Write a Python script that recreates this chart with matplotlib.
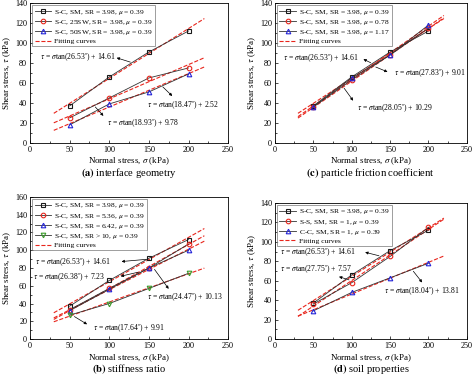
import numpy as np
import matplotlib
matplotlib.use('Agg')
import matplotlib.pyplot as plt

plt.rcParams['font.family'] = ['Liberation Serif', 'DejaVu Serif']
plt.rcParams['mathtext.fontset'] = 'stix'

sigma = [50, 100, 150, 200]

# (a) interface geometry
a_labels = ['S-C, SM, SR = 3.98, $\\mu$ = 0.39',
            'S-C, 25SW, SR = 3.98, $\\mu$ = 0.39',
            'S-C, 50SW, SR = 3.98, $\\mu$ = 0.39']
a_tau = [[37, 66, 91, 112],
         [25, 45, 65, 75],
         [18, 39, 51, 69]]
a_phi = [26.53, 18.93, 18.47]
a_c = [14.61, 9.78, 2.52]

# (c) particle friction coefficient
c_labels = ['S-C, SM, SR = 3.98, $\\mu$ = 0.39',
            'S-C, SM, SR = 3.98, $\\mu$ = 0.78',
            'S-C, SM, SR = 3.98, $\\mu$ = 1.17']
c_tau = [[37, 66, 91, 112],
         [36, 63, 88, 115],
         [36, 65, 88, 118]]
c_phi = [26.53, 27.83, 28.05]
c_c = [14.61, 9.01, 10.29]

# (b) stiffness ratio
b_labels = ['S-C, SM, SR = 3.98, $\\mu$ = 0.39',
            'S-C, SM, SR = 5.36, $\\mu$ = 0.39',
            'S-C, SM, SR = 6.42, $\\mu$ = 0.39',
            'S-C, SM, SR > 10, $\\mu$ = 0.39']
b_tau = [[37, 66, 91, 112],
         [33, 57, 80, 107],
         [32, 56, 80, 100],
         [27, 40, 57, 74]]
b_phi = [26.53, 26.38, 24.47, 17.64]
b_c = [14.61, 7.23, 10.13, 9.91]

# (d) soil properties
d_labels = ['S-C, SM, SR = 3.98, $\\mu$ = 0.39',
            'S-S, SM, SR = 1, $\\mu$ = 0.39',
            'C-C, SM, SR = 1, $\\mu$ = 0.39']
d_tau = [[37, 66, 91, 112],
         [36, 58, 85, 115],
         [29, 48, 63, 78]]
d_phi = [26.53, 27.75, 18.04]
d_c = [14.61, 7.57, 13.81]

fit_range = [30, 220]

colors = ['#1a1a1a', '#e8251c', '#2424d8', '#3a9a2a']
markers = ['s', 'o', '^', 'v']


def eq_text(phi, c):
    return '$\\tau$ = $\\sigma$tan(%.2f$^{\\circ}$) + %.2f' % (phi, c)


def draw_panel(ax, labels, taus, phis, cs, ymax, title_key, title_rest, notes):
    for i in range(len(taus)):
        ax.plot(sigma, taus[i], color='#333333', lw=0.6, marker=markers[i],
                ms=3.3, mfc='none', mec=colors[i], mew=0.8, label=labels[i], zorder=3)
    xf = np.array(fit_range)
    for i in range(len(taus)):
        yf = xf * np.tan(np.radians(phis[i])) + cs[i]
        ax.plot(xf, yf, '--', color='#e8251c', lw=0.8,
                label='Fitting curves' if i == 0 else None, zorder=2)

    for k, (tx, ty, head, tail) in enumerate(notes):
        ax.text(tx, ty, eq_text(phis[k], cs[k]), fontsize=5.5, va='center', ha='left',
                clip_on=False)
        ax.annotate('', xy=head, xytext=tail,
                    arrowprops=dict(arrowstyle='-|>', color='black', lw=0.5,
                                    mutation_scale=4))

    ax.set_xlim(0, 250)
    ax.set_ylim(0, ymax)
    ax.set_xticks(np.arange(0, 251, 50))
    ax.set_yticks(np.arange(0, ymax + 1, 20))
    ax.set_xticks(np.arange(0, 251, 25), minor=True)
    ax.set_yticks(np.arange(0, ymax + 1, 10), minor=True)
    ax.tick_params(which='both', direction='in', labelsize=5.9, width=0.5, pad=2)
    ax.tick_params(which='major', length=2.5)
    ax.tick_params(which='minor', length=1.5)
    for s in ax.spines.values():
        s.set_linewidth(0.6)
    ax.set_xlabel('Normal stress, $\\sigma$ (kPa)', fontsize=6.5, labelpad=1.5)
    ax.set_ylabel('Shear stress, $\\tau$ (kPa)', fontsize=6.5, labelpad=1.5)

    handles, labs = ax.get_legend_handles_labels()
    leg = ax.legend(handles, labs, loc='upper left', fontsize=5.4, frameon=True,
                    fancybox=False, edgecolor='#555555', handlelength=2.2,
                    borderpad=0.3, labelspacing=0.15, handletextpad=0.4,
                    borderaxespad=0.3)
    leg.get_frame().set_linewidth(0.5)

    pos = ax.get_position()
    fig.text(pos.x0 + pos.width / 2, pos.y0 - 30 / 378,
             '$\\mathbf{(%s)}$ %s' % (title_key, title_rest),
             ha='center', va='center', fontsize=7.6)


fig = plt.figure(figsize=(4.74, 3.78), dpi=100)

ax_a = fig.add_axes([0.0633, 0.622, 0.418, 0.370])
ax_c = fig.add_axes([0.580, 0.622, 0.405, 0.370])
ax_b = fig.add_axes([0.0633, 0.103, 0.418, 0.376])
ax_d = fig.add_axes([0.580, 0.103, 0.405, 0.360])

draw_panel(ax_a, a_labels, a_tau, a_phi, a_c, 140, 'a', 'interface geometry',
           [(12, 86, (106, 86), (130, 80)),
            (97, 20, (95, 25), (80, 38)),
            (148, 38, (182, 45), (165, 58))])

draw_panel(ax_c, c_labels, c_tau, c_phi, c_c, 140, 'c', 'particle friction coefficient',
           [(10, 85, (112, 85), (128, 79)),
            (155, 70, (150, 70), (128, 77)),
            (107, 35, (104, 40), (88, 57))])

draw_panel(ax_b, b_labels, b_tau, b_phi, b_c, 160, 'b', 'stiffness ratio',
           [(6, 87, (112, 87), (150, 90)),
            (4, 70, (111, 70), (140, 76)),
            (148, 47, (177, 54), (155, 81)),
            (80, 12, (75, 15), (53, 27))])

draw_panel(ax_d, d_labels, d_tau, d_phi, d_c, 140, 'd', 'soil properties',
           [(7, 89, (114, 90), (139, 85)),
            (7, 72, (80, 65), (100, 60)),
            (142, 49, (194, 56), (178, 72))])

fig.savefig('out.png', dpi=100)
